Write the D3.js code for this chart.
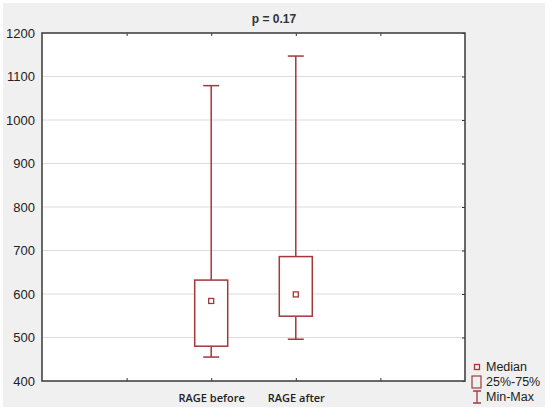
<!DOCTYPE html>
<html>
<head>
<meta charset="utf-8">
<script src="https://cdn.jsdelivr.net/npm/d3@7"></script>
<style>
  body { margin: 0; background: #fff; }
  .tick line { stroke: #333; }
</style>
</head>
<body>
<div id="chart"></div>
<script>
const width = 550
const height = 412
const margin = { top: 33, bottom: 31, left: 42, right: 85 }

// data
const categories = ["RAGE before", "RAGE after"]
const mins = [455, 496]
const q1s = [480, 549]
const medians = [584, 599]
const q3s = [632, 686]
const maxs = [1079, 1147]
const yTicks = [400, 500, 600, 700, 800, 900, 1000, 1100, 1200]
const xTickLabels = ["", "RAGE before", "RAGE after", ""]
const legendLabels = ["Median", "25%-75%", "Min-Max"]
const title = "p = 0.17"

const red = "#a3373b"

const data = categories.map((c, i) => ({
    name: c, slot: i + 1, min: mins[i], q1: q1s[i], median: medians[i], q3: q3s[i], max: maxs[i]
}))

const svg = d3.select("div#chart").append("svg").attr("width", width).attr("height", height)

// gray panel
svg.append("rect").attr("x", 3).attr("y", 3).attr("width", 542).attr("height", 404).attr("fill", "#f0f0f0")

const innerW = width - margin.left - margin.right
const innerH = height - margin.top - margin.bottom

const x = d3.scalePoint().domain(d3.range(xTickLabels.length)).range([0, innerW]).padding(1)
const y = d3.scaleLinear().domain([400, 1200]).range([innerH, 0])

const plot = svg.append("g").attr("transform", `translate(${margin.left}, ${margin.top})`)
plot.append("rect").attr("width", innerW).attr("height", innerH).attr("fill", "#fff")

// grid
plot.append("g").selectAll("line").data(yTicks.slice(1, -1)).enter().append("line")
    .attr("x1", 0).attr("x2", innerW)
    .attr("y1", d => y(d)).attr("y2", d => y(d))
    .attr("stroke", "#dcdcdc").attr("stroke-width", 1)

// axes
const xAxis = d3.axisBottom(x).tickSizeInner(-3).tickSizeOuter(0).tickPadding(13).tickFormat(i => xTickLabels[i])
const xAxisTop = d3.axisTop(x).tickSizeInner(-3).tickSizeOuter(0).tickFormat("")
const yAxis = d3.axisLeft(y).tickValues(yTicks).tickSize(0).tickPadding(7).tickFormat(d3.format("d"))
const yAxisRight = d3.axisRight(y).tickValues(yTicks).tickSizeInner(-3).tickSizeOuter(0).tickFormat("")

const xg = plot.append("g").attr("transform", `translate(0, ${innerH})`).call(xAxis)
xg.selectAll("text").attr("font-family", "'Open Sans', sans-serif").attr("font-size", 11)
    .attr("font-weight", 600).attr("fill", "#222")
plot.append("g").call(xAxisTop)
const yg = plot.append("g").call(yAxis)
yg.selectAll("text").attr("font-family", "'Liberation Sans', Arial, sans-serif").attr("font-size", 13).attr("fill", "#222")
plot.append("g").attr("transform", `translate(${innerW}, 0)`).call(yAxisRight)
plot.selectAll(".domain").remove()

// frame
plot.append("rect").attr("width", innerW).attr("height", innerH)
    .attr("fill", "none").attr("stroke", "#444").attr("stroke-width", 1.6)

// boxes
const boxW = 33
const capW = 16
const groups = plot.selectAll("g.box").data(data).enter().append("g").attr("class", "box")

groups.append("line")
    .attr("x1", d => x(d.slot)).attr("x2", d => x(d.slot))
    .attr("y1", d => y(d.max)).attr("y2", d => y(d.q3))
    .attr("stroke", red).attr("stroke-width", 1.5)
groups.append("line")
    .attr("x1", d => x(d.slot)).attr("x2", d => x(d.slot))
    .attr("y1", d => y(d.q1)).attr("y2", d => y(d.min))
    .attr("stroke", red).attr("stroke-width", 1.5)
groups.append("line")
    .attr("x1", d => x(d.slot) - capW / 2).attr("x2", d => x(d.slot) + capW / 2)
    .attr("y1", d => y(d.max)).attr("y2", d => y(d.max))
    .attr("stroke", red).attr("stroke-width", 1.5)
groups.append("line")
    .attr("x1", d => x(d.slot) - capW / 2).attr("x2", d => x(d.slot) + capW / 2)
    .attr("y1", d => y(d.min)).attr("y2", d => y(d.min))
    .attr("stroke", red).attr("stroke-width", 1.5)
groups.append("rect")
    .attr("x", d => x(d.slot) - boxW / 2).attr("width", boxW)
    .attr("y", d => y(d.q3)).attr("height", d => y(d.q1) - y(d.q3))
    .attr("fill", "#fff").attr("stroke", red).attr("stroke-width", 1.5)
groups.append("rect")
    .attr("x", d => x(d.slot) - 2.5).attr("width", 5)
    .attr("y", d => y(d.median) - 2.5).attr("height", 5)
    .attr("fill", "#fff").attr("stroke", red).attr("stroke-width", 1.3)

// title
svg.append("text").text(title).attr("x", 274).attr("y", 23).attr("text-anchor", "middle")
    .attr("font-family", "'Liberation Sans', Arial, sans-serif").attr("font-size", 12).attr("font-weight", 700).attr("fill", "#333")

// legend
const legend = svg.append("g").attr("transform", "translate(477, 367)")
legendLabels.forEach((l, i) => {
    const g = legend.append("g").attr("transform", `translate(0, ${i * 15})`)
    if (i === 0) {
        g.append("rect").attr("x", -2.5).attr("y", -2.5).attr("width", 5).attr("height", 5)
            .attr("fill", "none").attr("stroke", red).attr("stroke-width", 1.3)
    } else if (i === 1) {
        g.append("rect").attr("x", -5).attr("y", -6).attr("width", 9).attr("height", 12)
            .attr("fill", "none").attr("stroke", red).attr("stroke-width", 1.2)
    } else {
        g.append("path").attr("d", "M-4,-6H4M0,-6V6M-4,6H4")
            .attr("fill", "none").attr("stroke", red).attr("stroke-width", 1.3)
    }
    g.append("text").text(l).attr("x", 9).attr("y", 0).attr("dy", "0.35em")
        .attr("font-family", "'Liberation Sans', Arial, sans-serif").attr("font-size", 12.5).attr("fill", "#222")
})
</script>
</body>
</html>
